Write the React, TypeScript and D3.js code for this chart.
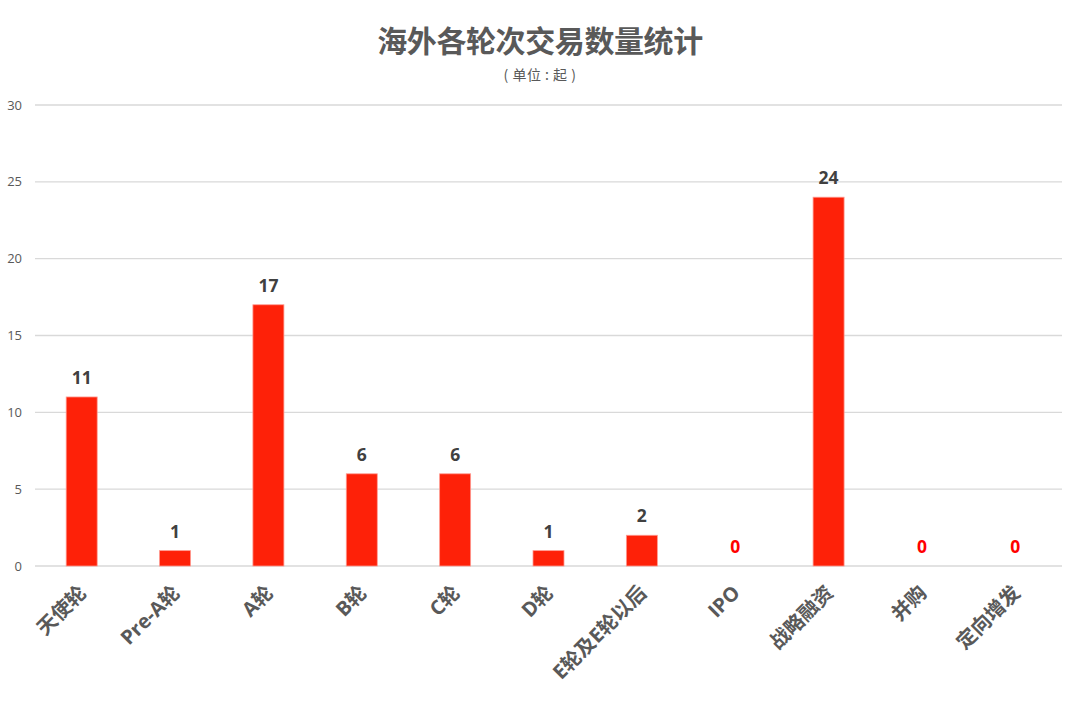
import React from "react";
import * as d3 from "d3";

const categories = ["天使轮", "Pre-A轮", "A轮", "B轮", "C轮", "D轮", "E轮及E轮以后", "IPO", "战略融资", "并购", "定向增发"];
const values = [11, 1, 17, 6, 6, 1, 2, 0, 24, 0, 0];
const yTicks = [0, 5, 10, 15, 20, 25, 30];

const W = 1080, H = 703;
const left = 35, right = 1062, top = 105, bottom = 566;

export default function App() {
  const x = d3.scaleBand<string>().domain(categories).range([left, right]).paddingInner(0).paddingOuter(0);
  const y = d3.scaleLinear().domain([0, 30]).range([bottom, top]);
  const bw = 31;
  const font = "'Open Sans', 'Noto Sans CJK SC', sans-serif";
  return (
    <svg width={W} height={H} style={{ position: "absolute", left: 0, top: 0, background: "#fff" }} fontFamily={font}>
      <text x={540} y={52} textAnchor="middle" fontSize={30} fontWeight={700} fill="#595959" fontFamily="'Noto Sans CJK SC', sans-serif" letterSpacing={-0.4}>海外各轮次交易数量统计</text>
      <text x={540} y={80} textAnchor="middle" fontSize={14} fill="#595959" fontFamily="'Noto Sans CJK SC', sans-serif" letterSpacing={0.5}>( 单位 : 起 )</text>
      {yTicks.map(t => (
        <g key={t}>
          <line x1={left} x2={right} y1={y(t)} y2={y(t)} stroke="#d9d9d9" strokeWidth={1.3} />
          <text x={22} y={y(t) + 4.5} textAnchor="end" fontSize={13} fill="#595959">{t}</text>
        </g>
      ))}
      {categories.map((c, i) => {
        const cx = (x(c) as number) + x.bandwidth() / 2;
        const v = values[i];
        return (
          <g key={c}>
            {v > 0 && (
              <rect x={cx - bw / 2} y={y(v)} width={bw} height={y(0) - y(v)} fill="#FE2108" stroke="#ff9a90" strokeWidth={0.8} />
            )}
            <text x={cx} y={y(v) - 13} textAnchor="middle" fontSize={17.5} fontWeight={700} fill={v === 0 ? "#ff0000" : "#404040"}>{v}</text>
            <text transform={`translate(${cx + 6},${594}) rotate(-45)`} textAnchor="end" fontSize={20} fontWeight={700} fill="#595959">{c}</text>
          </g>
        );
      })}
    </svg>
  );
}
